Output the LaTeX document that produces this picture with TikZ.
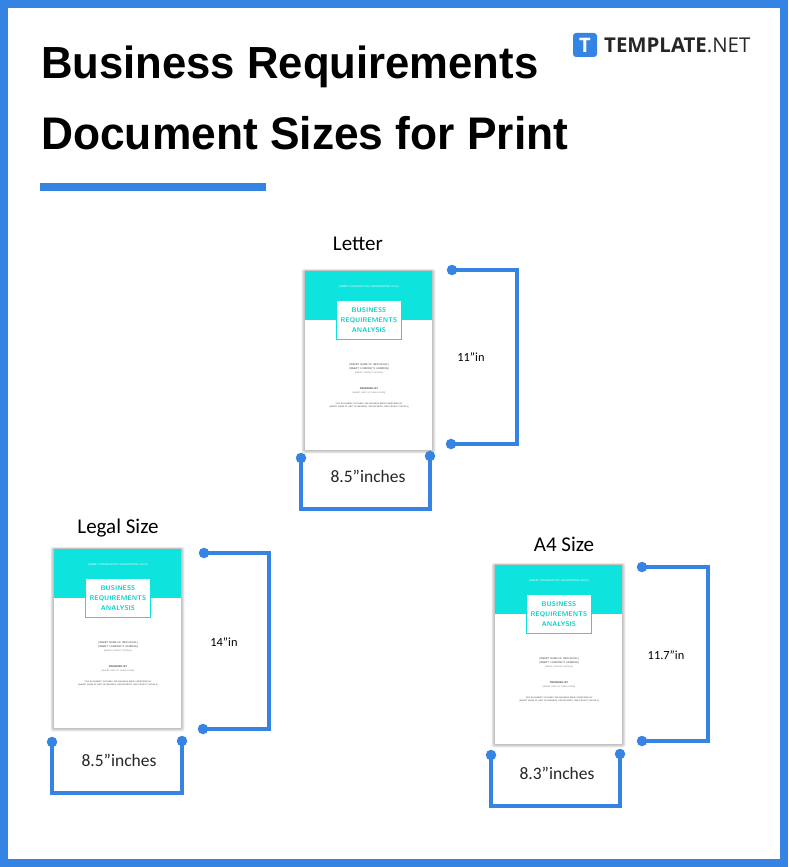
\documentclass[tikz,border=0pt]{standalone}
\usepackage{fontspec}
\setmainfont{Carlito}
\newfontfamily\titlefont[FakeStretch=0.97]{Liberation Sans}
\newfontfamily\logofont{Open Sans}
\usepackage{tikz}

\definecolor{bluefrm}{HTML}{3584E4}
\definecolor{tealdoc}{HTML}{0FE3DD}
\definecolor{inkdoc}{HTML}{333333}

\tikzset{
  titletxt/.style={anchor=base west,inner sep=0pt,font=\titlefont\bfseries\fontsize{45}{45}\selectfont},
  headtxt/.style={inner sep=0pt,font=\fontsize{21}{21}\selectfont},
  sizetxt/.style={inner sep=0pt,text=black!85,font=\fontsize{17.5}{17.5}\selectfont},
  hghttxt/.style={inner sep=0pt,text=black,font=\fontsize{12.4}{12.4}\selectfont},
  dimline/.style={draw=bluefrm,line width=4pt,line join=miter},
  dimdot/.style={circle,fill=bluefrm,inner sep=0pt,minimum size=10.5pt},
  docline/.style={inner sep=0pt,text=inkdoc,font=\sffamily\fontsize{2.5}{2.5}\selectfont},
  docsmall/.style={inner sep=0pt,text=inkdoc,font=\sffamily\fontsize{2}{2}\selectfont},
  docboxtxt/.style={inner sep=0pt,align=center,text=tealdoc!92!black,font=\sffamily\bfseries\fontsize{6.8}{10}\selectfont},
}

% one page of the document, #1 = name, (#2,#3) = top left corner
\newcommand{\docpage}[3]{
  \begin{scope}[shift={(#2,#3)}]
    \foreach \g in {5,4,...,1}
      \fill[black,opacity=0.055,rounded corners=2pt] (-\g*0.7,-\g*0.4) rectangle (127+\g*0.7,179+\g*0.7);
    \fill[white] (0,0) rectangle (127,179);
    \fill[tealdoc] (0,0) rectangle (127,49);
    \node[draw=tealdoc,line width=1pt,fill=white,minimum width=65pt,minimum height=39pt,inner sep=0pt] (#1box) at (64,49) {};
    \node[docboxtxt] (#1ttl) at (#1box) {BUSINESS\\REQUIREMENTS\\ANALYSIS};
    \node[docline,text=white] (#1org) at (64,16) {[INSERT ORGANIZATION/UNDERWRITER LOGO]};
    \node[docline] (#1nme) at (64,94) {[INSERT NAME OF INDIVIDUAL]};
    \node[docline] (#1adr) at (64,98) {[INSERT COMPANY'S ADDRESS]};
    \node[docsmall,text=inkdoc!70] (#1pos) at (64,102) {[INSERT CONTACT DETAILS]};
    \node[docline,font=\sffamily\bfseries\fontsize{2.5}{2.5}\selectfont] (#1pre) at (64,118) {PREPARED BY};
    \node[docsmall,text=inkdoc!70] (#1dat) at (64,122) {[INSERT DATE OF PUBLICATION]};
    \node[docsmall] (#1lna) at (64,133) {THIS DOCUMENT OUTLINES THE BUSINESS NEEDS IDENTIFIED BY};
    \node[docsmall] (#1lnb) at (64,136) {[INSERT NAME OF UNIT OF BUSINESS, DEPARTMENT, AND PROJECT DETAILS]};
  \end{scope}
}

\begin{document}
\begin{tikzpicture}[x=1pt,y=-1pt]
  \useasboundingbox (0,0) rectangle (788,867);
  \fill[white] (0,0) rectangle (788,867);
  \draw[bluefrm,line width=8pt] (4,4) rectangle (784,863);

  % heading
  \node[titletxt] (ttla) at (41,78) {Business Requirements};
  \node[titletxt,font=\titlefont\bfseries\fontsize{45.7}{45.7}\selectfont] (ttlb) at (41,149) {Document Sizes for Print};
  \fill[bluefrm] (40,183) rectangle (266,191);

  % logo
  \node[fill=bluefrm,rounded corners=3pt,minimum size=24pt,inner sep=0pt,text=white,font=\logofont\bfseries\fontsize{20}{20}\selectfont] (lgob) at (585,45) {T};
  \node[anchor=west,inner sep=0pt,text=black!85,font=\logofont\fontsize{20.4}{20.4}\selectfont] (lgot) at (604,45) {\textbf{TEMPLATE}.NET};

  % the three pages
  \docpage{ltr}{305}{271}
  \docpage{lgl}{54}{549}
  \docpage{afr}{495}{565}

  \node[headtxt] (ltrlbl) at (358,244) {Let{}ter};
  \node[headtxt] (lgllbl) at (118,528) {Legal Size};
  \node[headtxt] (afrlbl) at (564,544) {A4 Size};

  % letter
  \node[dimdot] (ltra) at (452,270) {};
  \node[dimdot] (ltrb) at (451,444) {};
  \node[dimdot] (ltrc) at (301,458) {};
  \node[dimdot] (ltrd) at (430,456) {};
  \draw[dimline] (ltra.center) -| (517,444) -- (ltrb.center);
  \draw[dimline] (ltrc.center) |- (430,509) -- (ltrd.center);
  \node[hghttxt] (ltrh) at (471,357) {11”in};
  \node[sizetxt] (ltrw) at (368,476) {8.5”inches};

  % legal
  \node[dimdot] (lgla) at (204,553) {};
  \node[dimdot] (lglb) at (203,729) {};
  \node[dimdot] (lglc) at (52,742) {};
  \node[dimdot] (lgld) at (182,741) {};
  \draw[dimline] (lgla.center) -| (269,729) -- (lglb.center);
  \draw[dimline] (lglc.center) |- (182,793) -- (lgld.center);
  \node[hghttxt] (lglh) at (224,642) {14”in};
  \node[sizetxt] (lglw) at (119,760) {8.5”inches};

  % a4
  \node[dimdot] (afra) at (642,567) {};
  \node[dimdot] (afrb) at (642,741) {};
  \node[dimdot] (afrc) at (491,755) {};
  \node[dimdot] (afrd) at (620,754) {};
  \draw[dimline] (afra.center) -| (708,741) -- (afrb.center);
  \draw[dimline] (afrc.center) |- (620,806) -- (afrd.center);
  \node[hghttxt] (afrh) at (666,655) {11.7”in};
  \node[sizetxt] (afrw) at (557,773) {8.3”inches};
\end{tikzpicture}
\end{document}
